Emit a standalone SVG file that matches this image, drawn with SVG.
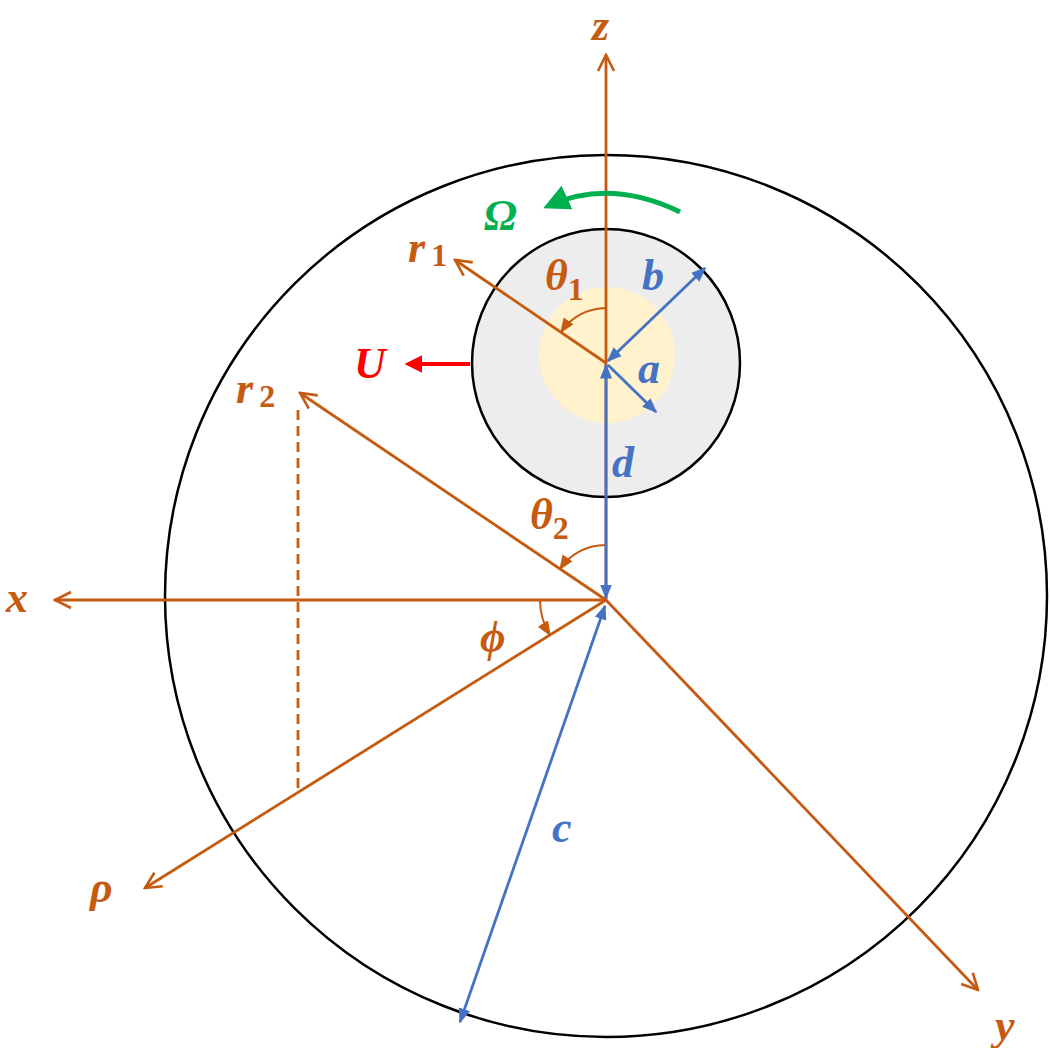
<svg xmlns="http://www.w3.org/2000/svg" width="1050" height="1048" viewBox="0 0 1050 1048">
<style>
.o{stroke:#c55a11;stroke-width:2.8;fill:none}
.b{stroke:#4472c4;stroke-width:2.8;fill:none}
.t{font-family:"Liberation Serif",serif;font-weight:bold;font-style:italic;font-size:44px}
.s{font-style:normal;font-size:32px}
.to{fill:#c55a11}.tb{fill:#4472c4}
</style>
<defs>
<marker id="ao" viewBox="0 0 10 10" refX="9" refY="5" markerWidth="20" markerHeight="20" orient="auto-start-reverse" markerUnits="userSpaceOnUse"><path d="M1,1 L9,5 L1,9" fill="none" stroke="#c55a11" stroke-width="1.3"/></marker>
<marker id="ab" viewBox="0 0 10 10" refX="9" refY="5" markerWidth="15" markerHeight="15" orient="auto-start-reverse" markerUnits="userSpaceOnUse"><path d="M0,1 L10,5 L0,9 Z" fill="#4472c4"/></marker>
<marker id="ao2" viewBox="0 0 10 10" refX="9" refY="5" markerWidth="15" markerHeight="15" orient="auto-start-reverse" markerUnits="userSpaceOnUse"><path d="M0,1 L10,5 L0,9 Z" fill="#c55a11"/></marker>
<marker id="ag" viewBox="0 0 10 10" refX="8" refY="5" markerWidth="26" markerHeight="26" orient="auto" markerUnits="userSpaceOnUse"><path d="M0,0 L10,5 L0,10 Z" fill="#00b050"/></marker>
<marker id="ar" viewBox="0 0 10 10" refX="8" refY="5" markerWidth="18" markerHeight="18" orient="auto" markerUnits="userSpaceOnUse"><path d="M0,0 L10,5 L0,10 Z" fill="#ff0000"/></marker>
</defs>
<rect width="1050" height="1048" fill="#fff"/>
<g id="outer"><circle cx="606" cy="596" r="441" fill="none" stroke="#000" stroke-width="2.5"/></g>
<g id="sphere"><circle cx="606" cy="363" r="134" fill="#ededed" stroke="#000" stroke-width="2.5"/>
<circle cx="607" cy="355" r="68" fill="#fff2cc"/></g>
<g id="connectors">
<line class="o" x1="606" y1="600" x2="606" y2="55" marker-end="url(#ao)"/>
<line class="o" x1="606" y1="600" x2="55" y2="600" marker-end="url(#ao)"/>
<line class="o" x1="606" y1="600" x2="978" y2="990" marker-end="url(#ao)"/>
<line class="o" x1="606" y1="600" x2="145" y2="888" marker-end="url(#ao)"/>
<line class="o" x1="606" y1="600" x2="300" y2="393" marker-end="url(#ao)"/>
<line class="o" x1="606" y1="363" x2="455" y2="260" marker-end="url(#ao)"/>
<line class="o" x1="298" y1="410" x2="298" y2="790" stroke-dasharray="10,6"/>
<path class="o" d="M606,308 A55,55 0 0 0 561,332" marker-end="url(#ao2)" style="stroke-width:2"/>
<path class="o" d="M606,545 A55,55 0 0 0 560,569" marker-end="url(#ao2)" style="stroke-width:2"/>
<path class="o" d="M540,600 A66,66 0 0 0 550,635" marker-end="url(#ao2)" style="stroke-width:2"/>
<line class="b" x1="606" y1="365" x2="606" y2="598" marker-start="url(#ab)" marker-end="url(#ab)"/>
<line class="b" x1="605" y1="606" x2="460" y2="1022" marker-start="url(#ab)" marker-end="url(#ab)"/>
<line class="b" x1="608" y1="361" x2="705" y2="268" marker-start="url(#ab)" marker-end="url(#ab)"/>
<line class="b" x1="608" y1="365" x2="656" y2="412" marker-end="url(#ab)"/>
<path d="M680,212 Q610,178 548,206" fill="none" stroke="#00b050" stroke-width="5" marker-end="url(#ag)"/>
<line x1="470" y1="364" x2="408" y2="364" stroke="#ff0000" stroke-width="4" marker-end="url(#ar)"/>
</g>
<g id="labels">
<text class="t to" x="592" y="40">z</text>
<text class="t to" x="6" y="612">x</text>
<text class="t to" x="995" y="1040">y</text>
<text class="t to" x="90" y="902">ρ</text>
<text class="t to" x="408" y="262">r<tspan class="s" dx="6" dy="4">1</tspan></text>
<text class="t to" x="236" y="403">r<tspan class="s" dx="6" dy="4">2</tspan></text>
<text class="t to" x="545" y="290">θ<tspan class="s" dy="10">1</tspan></text>
<text class="t to" x="530" y="529">θ<tspan class="s" dy="10">2</tspan></text>
<text class="t to" x="480" y="652">ϕ</text>
<text class="t tb" x="642" y="290">b</text>
<text class="t tb" x="638" y="383">a</text>
<text class="t tb" x="612" y="477">d</text>
<text class="t tb" x="552" y="842">c</text>
<text class="t" x="484" y="230" fill="#00b050">Ω</text>
<text class="t" x="354" y="378" fill="#ff0000">U</text>
</g>
</svg>
